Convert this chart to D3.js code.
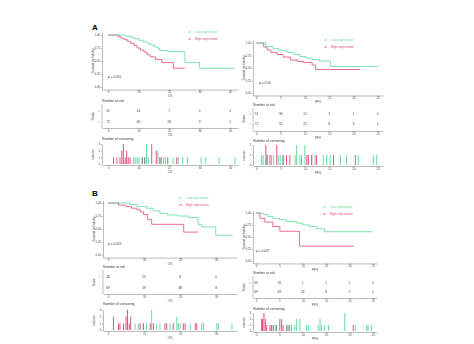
<!DOCTYPE html>
<html>
<head>
<meta charset="utf-8">
<script src="https://cdn.jsdelivr.net/npm/d3@7"></script>
<style>
  body { margin: 0; background: #fff; }
  text { font-family: "Liberation Sans", Arial, sans-serif; }
</style>
</head>
<body>
<script>
var GREEN = "#5edb9c", PINK = "#e4487c", GRAY = "#8a8a8a";
var groupNames = ["Low expression", "High expression"];

// ---- A, overall survival ----
var osA_greenT = [0, 5.6, 7.2, 8.5, 10, 11.5, 12.8, 13.8, 15.2, 16.4, 17.0, 19.5, 25.2, 30.0, 41.6];
var osA_greenS = [1, 0.98, 0.96, 0.93, 0.90, 0.87, 0.84, 0.81, 0.77, 0.73, 0.70, 0.68, 0.47, 0.36, 0.36];
var osA_pinkT = [0, 3.3, 4.2, 5.2, 6.3, 7.4, 8.5, 9.5, 10.6, 11.8, 12.8, 13.8, 15.5, 17.6, 21.4, 25.2];
var osA_pinkS = [1, 0.97, 0.94, 0.91, 0.88, 0.84, 0.80, 0.75, 0.71, 0.67, 0.62, 0.58, 0.53, 0.47, 0.36, 0.36];
var osA_ticks = [0, 10, 20, 30, 40];
var osA_riskPink = [51, 44, 7, 0, 0];
var osA_riskGreen = [72, 60, 18, 3, 1];
var osA_censPink = [[1.8,1],[2.9,1],[3.9,1],[4.5,2],[5.0,3],[5.6,1],[6.1,2],[6.6,1],[7.2,1],[11.2,1],[12.0,1],[14.3,3],[15.8,2],[17.0,1],[19.5,1],[22.5,1]];
var osA_censGreen = [[8.3,1],[8.9,1],[9.5,1],[10.1,1],[11.2,1],[12.0,1],[12.6,3],[13.2,1],[16.3,2],[17.0,1],[17.5,1],[18.2,1],[18.8,1],[19.6,1],[21.3,1],[23.0,1],[24.5,1],[26.0,1],[30.5,1],[32.0,1],[36.4,1],[41.6,1]];

// ---- A, progression-free survival ----
var pfsA_greenT = [0, 1.9, 3.5, 4.5, 5.5, 6.5, 7.8, 9.0, 10.2, 11.5, 13.0, 15.3, 25.1];
var pfsA_greenS = [1, 0.93, 0.89, 0.86, 0.84, 0.81, 0.77, 0.73, 0.70, 0.67, 0.64, 0.53, 0.53];
var pfsA_pinkT = [0, 1.5, 2.2, 3.0, 4.3, 5.5, 7.0, 8.5, 9.7, 11.5, 12.2, 21.3];
var pfsA_pinkS = [1, 0.92, 0.86, 0.81, 0.77, 0.72, 0.66, 0.63, 0.61, 0.56, 0.47, 0.47];
var pfsA_ticks = [0, 5, 10, 15, 20, 25];
var pfsA_riskPink = [51, 36, 12, 3, 1, 0];
var pfsA_riskGreen = [71, 51, 25, 8, 3, 1];
var pfsA_censPink = [[1.96,2],[2.2,1],[2.8,1],[4.2,2],[5.5,1],[6.2,1],[6.9,1],[10.4,1],[10.7,1],[11.4,1],[12.4,1],[15.9,1],[20.4,1]];
var pfsA_censGreen = [[1.07,1],[1.4,1],[2.2,1],[3.1,1],[3.5,1],[4.5,1],[4.9,1],[5.5,1],[8.0,1],[8.3,2],[9.0,1],[9.3,1],[10.0,2],[11.4,1],[12.1,1],[13.8,1],[14.5,1],[15.2,1],[17.3,1],[18.6,1],[21.0,1],[24.1,1],[24.8,1]];

// ---- B, overall survival ----
var osB_greenT = [0, 6.0, 8.0, 10.7, 12.5, 14.4, 16.5, 19.4, 22.5, 25.0, 26.0, 29.9, 34.6];
var osB_greenS = [1, 0.97, 0.93, 0.90, 0.85, 0.80, 0.77, 0.75, 0.72, 0.59, 0.54, 0.38, 0.38];
var osB_pinkT = [0, 2.9, 5.0, 6.5, 8.0, 9.0, 9.8, 11.0, 12.1, 21.0, 25.0];
var osB_pinkS = [1, 0.96, 0.93, 0.90, 0.87, 0.83, 0.78, 0.68, 0.59, 0.44, 0.44];
var osB_ticks = [0, 10, 20, 30];
var osB_riskPink = [46, 25, 8, 0];
var osB_riskGreen = [69, 59, 38, 8];
var osB_censPink = [[1.5,2],[2.9,1],[3.3,1],[4.3,1],[5.0,2],[5.4,3],[5.9,1],[6.3,2],[8.9,1],[9.8,1],[11.7,1],[12.6,1],[15.8,1],[16.3,1],[18.1,1],[20.9,1],[21.4,1],[24.2,1],[24.6,1]];
var osB_censGreen = [[7.5,1],[8.4,1],[9.8,1],[10.7,1],[12.1,3],[12.6,1],[13.5,1],[14.4,1],[17.2,1],[19.1,2],[19.5,1],[20.0,1],[22.8,1],[26.0,1],[26.5,1],[30.2,1],[30.6,1],[34.4,1]];

// ---- B, progression-free survival ----
var pfsB_greenT = [0, 1.5, 2.5, 3.6, 5.0, 6.5, 8.7, 10.0, 11.5, 13.0, 14.7, 24.9];
var pfsB_greenS = [1, 0.97, 0.93, 0.89, 0.86, 0.82, 0.79, 0.75, 0.72, 0.67, 0.61, 0.61];
var pfsB_pinkT = [0, 0.85, 1.9, 3.6, 5.1, 9.3, 21.0];
var pfsB_pinkS = [1, 0.89, 0.81, 0.72, 0.62, 0.31, 0.31];
var pfsB_ticks = [0, 5, 10, 15, 20, 25];
var pfsB_riskPink = [46, 16, 1, 1, 1, 0];
var pfsB_riskGreen = [69, 49, 32, 8, 2, 1];
var pfsB_censPink = [[1.2,2],[1.4,2],[1.7,3],[2.0,2],[2.3,1],[3.0,1],[3.3,1],[3.7,1],[4.4,1],[5.1,2],[5.5,2],[5.8,1],[6.6,1],[7.1,1],[20.8,1]];
var pfsB_censGreen = [[3.7,1],[4.1,1],[4.4,1],[6.6,1],[7.1,1],[7.6,1],[8.3,1],[8.7,2],[9.4,2],[10.8,1],[11.2,1],[13.3,1],[13.7,2],[14.0,1],[14.7,1],[15.5,1],[19.0,3],[21.2,1],[23.7,1],[24.0,1],[24.7,1]];

var svg = d3.select("body").append("svg")
    .attr("width", 474)
    .attr("height", 344);
svg.append("rect").attr("width", 474).attr("height", 344).attr("fill", "#fff");

var panels = [
  { xDomain: [-2, 42.6], xRange: [102, 238], ticks: osA_ticks, xLabel: "OS", p: "p = 0.031",
    km: {one: 35, zero: 87}, legend: {x: 190, y: 32}, pPos: [108, 78],
    risk: {title: 101, rows: [111, 122], axis: 128}, cens: {title: 139, top: 144, axis: 165, max: 3},
    greenT: osA_greenT, greenS: osA_greenS, pinkT: osA_pinkT, pinkS: osA_pinkS,
    riskPink: osA_riskPink, riskGreen: osA_riskGreen, censPink: osA_censPink, censGreen: osA_censGreen },
  { xDomain: [-0.7, 26.1], xRange: [253, 383], ticks: pfsA_ticks, xLabel: "PFS", p: "p = 0.16",
    km: {one: 43, zero: 93}, legend: {x: 326, y: 40}, pPos: [259, 84],
    risk: {title: 105, rows: [114, 124], axis: 131}, cens: {title: 141, top: 145, axis: 166, max: 2},
    greenT: pfsA_greenT, greenS: pfsA_greenS, pinkT: pfsA_pinkT, pinkS: pfsA_pinkS,
    riskPink: pfsA_riskPink, riskGreen: pfsA_riskGreen, censPink: pfsA_censPink, censGreen: pfsA_censGreen },
  { xDomain: [-1.4, 35.8], xRange: [103, 237], ticks: osB_ticks, xLabel: "OS", p: "p = 0.015",
    km: {one: 203, zero: 255}, legend: {x: 181, y: 198}, pPos: [108, 245],
    risk: {title: 267, rows: [277, 288], axis: 294}, cens: {title: 304, top: 310, axis: 331, max: 3},
    greenT: osB_greenT, greenS: osB_greenS, pinkT: osB_pinkT, pinkS: osB_pinkS,
    riskPink: osB_riskPink, riskGreen: osB_riskGreen, censPink: osB_censPink, censGreen: osB_censGreen },
  { xDomain: [-0.64, 25.9], xRange: [253, 377], ticks: pfsB_ticks, xLabel: "PFS", p: "p = 0.027",
    km: {one: 213, zero: 261}, legend: {x: 325, y: 207}, pPos: [256, 252],
    risk: {title: 273, rows: [283, 292], axis: 298}, cens: {title: 309, top: 313, axis: 332, max: 3},
    greenT: pfsB_greenT, greenS: pfsB_greenS, pinkT: pfsB_pinkT, pinkS: pfsB_pinkS,
    riskPink: pfsB_riskPink, riskGreen: pfsB_riskGreen, censPink: pfsB_censPink, censGreen: pfsB_censGreen }
];

svg.append("text").attr("x", 92).attr("y", 30).attr("font-size", 8).attr("font-weight", "bold").text("A");
svg.append("text").attr("x", 92).attr("y", 196).attr("font-size", 8).attr("font-weight", "bold").text("B");

function styleAxis(g) {
  g.attr("font-size", 2.9).attr("font-family", "Liberation Sans, Arial, sans-serif");
  g.selectAll("path, line").attr("stroke", "#555").attr("stroke-width", 0.4);
  g.selectAll("text").attr("fill", "#444");
}

function bottomAxis(x, ticks) {
  return d3.axisBottom(x).tickValues(ticks).tickSize(1).tickSizeOuter(0).tickPadding(0.5);
}

function zip(t, s) { return t.map(function(d, i) { return [d, s[i]]; }); }

panels.forEach(function(c) {
  var x = d3.scaleLinear().domain(c.xDomain).range(c.xRange);
  var left = c.xRange[0];
  var mid = (c.xRange[0] + c.xRange[1]) / 2;

  // survival curves
  var unit = c.km.zero - c.km.one;
  var y = d3.scaleLinear().domain([-0.05, 1.05]).range([c.km.zero + 0.05 * unit, c.km.one - 0.05 * unit]);
  var base = y(-0.05);

  svg.append("g").attr("transform", "translate(0," + base + ")")
      .call(bottomAxis(x, c.ticks))
      .call(styleAxis);
  svg.append("g").attr("transform", "translate(" + left + ",0)")
      .call(d3.axisLeft(y).tickValues([0, 0.25, 0.5, 0.75, 1]).tickFormat(d3.format(".2f"))
        .tickSize(1).tickSizeOuter(0).tickPadding(0.8))
      .call(styleAxis);
  svg.append("text").attr("x", mid).attr("y", base + 7.5)
      .attr("text-anchor", "middle").attr("font-size", 3).attr("fill", "#444").text(c.xLabel);
  svg.append("text").attr("transform", "translate(" + (left - 8.5) + "," + ((c.km.one + c.km.zero) / 2) + ") rotate(-90)")
      .attr("text-anchor", "middle").attr("font-size", 3).attr("fill", "#444").text("Survival probability");

  var line = d3.line().x(function(d) { return x(d[0]); }).y(function(d) { return y(d[1]); }).curve(d3.curveStepAfter);
  svg.append("path").datum(zip(c.pinkT, c.pinkS)).attr("d", line)
      .attr("fill", "none").attr("stroke", PINK).attr("stroke-width", 0.8);
  svg.append("path").datum(zip(c.greenT, c.greenS)).attr("d", line)
      .attr("fill", "none").attr("stroke", GREEN).attr("stroke-width", 0.8);

  // legend
  [[GREEN, groupNames[0]], [PINK, groupNames[1]]].forEach(function(d, i) {
    var ly = c.legend.y + i * 7;
    svg.append("line").attr("x1", c.legend.x - 2).attr("x2", c.legend.x + 1).attr("y1", ly).attr("y2", ly)
        .attr("stroke", d[0]).attr("stroke-width", 0.8);
    svg.append("text").attr("x", c.legend.x + 5).attr("y", ly + 1.1).attr("font-size", 3.2)
        .attr("fill", d[0]).text(d[1]);
  });
  svg.append("text").attr("x", c.pPos[0]).attr("y", c.pPos[1]).attr("font-size", 3.2).attr("fill", "#333").text(c.p);

  // number at risk
  svg.append("text").attr("x", left).attr("y", c.risk.title + 1.2).attr("font-size", 3.4).attr("fill", "#333").text("Number at risk");
  svg.append("g").attr("transform", "translate(0," + c.risk.axis + ")")
      .call(bottomAxis(x, c.ticks))
      .call(styleAxis);
  svg.append("line").attr("x1", left).attr("x2", left).attr("y1", c.risk.title + 3).attr("y2", c.risk.axis)
      .attr("stroke", "#555").attr("stroke-width", 0.4);
  svg.append("text").attr("x", mid).attr("y", c.risk.axis + 7.5)
      .attr("text-anchor", "middle").attr("font-size", 3).attr("fill", "#444").text(c.xLabel);
  svg.append("text").attr("transform", "translate(" + (left - 8.5) + "," + ((c.risk.rows[0] + c.risk.rows[1]) / 2) + ") rotate(-90)")
      .attr("text-anchor", "middle").attr("font-size", 3).attr("fill", "#444").text("Strata");
  [[c.riskPink, PINK], [c.riskGreen, GREEN]].forEach(function(r, i) {
    var ry = c.risk.rows[i];
    svg.append("line").attr("x1", left - 4).attr("x2", left - 2.5).attr("y1", ry).attr("y2", ry)
        .attr("stroke", r[1]).attr("stroke-width", 0.6);
    svg.selectAll(null).data(r[0]).enter().append("text")
        .attr("x", function(d, j) { return x(c.ticks[j]); })
        .attr("y", ry + 1.1)
        .attr("text-anchor", "middle").attr("font-size", 3.1).attr("fill", "#333")
        .text(function(d) { return d; });
  });

  // number of censoring
  var yc = d3.scaleLinear().domain([0, c.cens.max]).range([c.cens.axis - 1, c.cens.top]);
  svg.append("text").attr("x", left).attr("y", c.cens.title + 1.2).attr("font-size", 3.4).attr("fill", "#333").text("Number of censoring");
  svg.append("g").attr("transform", "translate(0," + c.cens.axis + ")")
      .call(bottomAxis(x, c.ticks))
      .call(styleAxis);
  svg.append("g").attr("transform", "translate(" + left + ",0)")
      .call(d3.axisLeft(yc).ticks(c.cens.max).tickFormat(d3.format("d")).tickSize(1).tickSizeOuter(0).tickPadding(0.8))
      .call(styleAxis);
  svg.append("text").attr("x", mid).attr("y", c.cens.axis + 7.5)
      .attr("text-anchor", "middle").attr("font-size", 3).attr("fill", "#444").text(c.xLabel);
  svg.append("text").attr("transform", "translate(" + (left - 8.5) + "," + ((c.cens.top + c.cens.axis) / 2) + ") rotate(-90)")
      .attr("text-anchor", "middle").attr("font-size", 3).attr("fill", "#444").text("n.censor");

  // times censored in both groups are drawn grey
  var greenTimes = c.censGreen.map(function(d) { return d[0]; });
  var pinkTimes = c.censPink.map(function(d) { return d[0]; });
  var bars = c.censPink.map(function(d) {
    return {t: d[0], n: d[1], col: greenTimes.indexOf(d[0]) >= 0 ? GRAY : PINK};
  }).concat(c.censGreen.map(function(d) {
    return {t: d[0], n: d[1], col: pinkTimes.indexOf(d[0]) >= 0 ? GRAY : GREEN};
  }));
  svg.selectAll(null).data(bars).enter().append("line")
      .attr("x1", function(d) { return x(d.t); })
      .attr("x2", function(d) { return x(d.t); })
      .attr("y1", yc(0))
      .attr("y2", function(d) { return yc(d.n); })
      .attr("stroke", function(d) { return d.col; })
      .attr("stroke-width", 0.95);
});
</script>
</body>
</html>
